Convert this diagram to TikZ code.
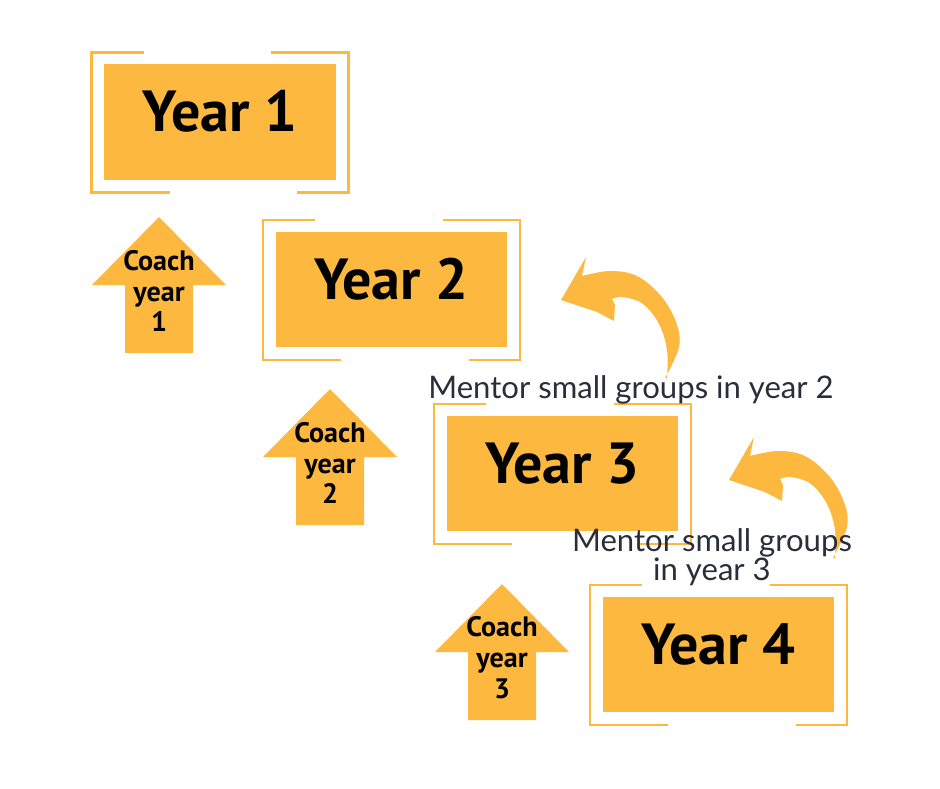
\documentclass[tikz,border=0pt]{standalone}
\usepackage{fontspec}
\setmainfont{PT Sans}
\newfontfamily\mentorfont{Lato}

\definecolor{gold}{HTML}{FDB93F}
\definecolor{ink}{HTML}{2B2D3A}

\tikzset{
    yearbox/.style={fill=gold, minimum width=4.64cm, minimum height=2.32cm, inner sep=0pt,
        text height=1.0cm, text depth=0.62cm, font=\fontsize{33}{38}\selectfont\bfseries},
    frame/.style={draw=gold, line width=1.4pt},
    coach/.style={align=center, inner sep=0pt, font=\fontsize{16}{17.6}\selectfont\bfseries},
    mentor/.style={text=ink, align=center, inner sep=0pt, font=\mentorfont\fontsize{17.7}{16.4}\selectfont},
    mentorarrow/.pic={
        \fill[gold] (0,0) -- plot[smooth, tension=0.6] coordinates {(0,0) (14,-31) (11,-56) (-4,-82) (-28,-102) (-55,-107) (-83,-102)}
            -- (-79,-121) -- (-104,-78) -- (-68,-66) -- (-51,-57) -- (-50,-73)
            -- plot[smooth, tension=0.6] coordinates {(-53,-79) (-42,-81) (-22,-74) (-6,-54) (2,-28) (2,0)} -- cycle;
    }
}

\begin{document}
\begin{tikzpicture}[x=0.02cm, y=-0.02cm]
    \useasboundingbox (0,0) rectangle (940,788);

    \node[yearbox] (Y1) at (220,122) {Year 1};
    \node[yearbox] (Y2) at (391.5,289.5) {Year 2};
    \node[yearbox] (Y3) at (562.5,473.5) {Year 3};
    \node[yearbox] (Y4) at (718.5,654.5) {Year 4};

    \foreach \n in {Y1,Y2,Y3,Y4} {
        \draw[frame] ([shift={(40,-11)}]\n.north west) -- ([shift={(-12,-11)}]\n.north west)
            -- ([shift={(-12,12)}]\n.south west) -- ([shift={(66,12)}]\n.south west);
        \draw[frame] ([shift={(-65,-11)}]\n.north east) -- ([shift={(12,-11)}]\n.north east)
            -- ([shift={(12,12)}]\n.south east) -- ([shift={(-39,12)}]\n.south east);
    }

    \foreach \x/\y/\k in {159/217/1, 330/389/2, 502/584/3} {
        \fill[gold] (\x,\y) -- ++(67,68) -- ++(-33,0) -- ++(0,68) -- ++(-68,0) -- ++(0,-68) -- ++(-33,0) -- cycle;
        \node[coach] (C\k) at (\x,\y+74) {Coach\\year\\\k};
    }

    \pic at (665,378) {mentorarrow};
    \pic at (833,558) {mentorarrow};

    \node[mentor, anchor=base] (M2) at (631,398) {Mentor small groups in year 2};
    \node[mentor] (M3) at (712,557) {Mentor small groups\\in year 3};
\end{tikzpicture}
\end{document}
